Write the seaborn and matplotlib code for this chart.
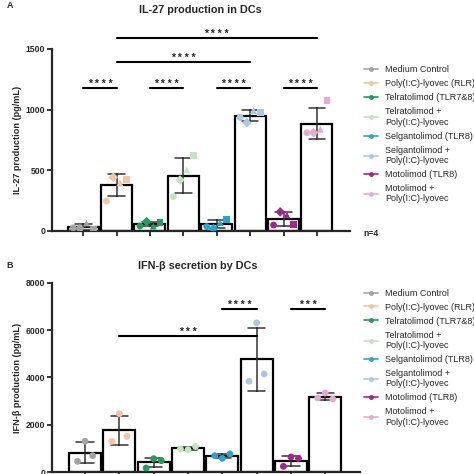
import pandas as pd
import matplotlib.pyplot as plt
import seaborn as sns
from matplotlib.lines import Line2D

sns.set_style("ticks")
plt.rcParams['font.family'] = ['Liberation Sans', 'DejaVu Sans']

groups = ["Medium Control", "Poly(I:C)-lyovec (RLR)", "Telratolimod (TLR7&8)",
          "Telratolimod +\nPoly(I:C)-lyovec", "Selgantolimod (TLR8)",
          "Selgantolimod +\nPoly(I:C)-lyovec", "Motolimod (TLR8)",
          "Motolimod +\nPoly(I:C)-lyovec"]
colors = ["#a3a3a3", "#f2c6a0", "#1f9d5c", "#bfe6bc",
          "#2aa5cf", "#a8c8e4", "#a3248f", "#e8a8d3"]

# IL-27 (pg/mL), four donors: circle, square, triangle, diamond
il27_circle = [25, 247, 41, 283, 36, 937, 49, 810]
il27_square = [15, 426, 69, 621, 96, 978, 55, 1074]
il27_triangle = [65, 398, 40, 503, 69, 992, 132, 838]
il27_diamond = [20, 442, 77, 420, 20, 893, 157, 810]

# IFN-beta (pg/mL), three donors
ifnb_d1 = [1298, 2469, 564, 945, 578, 6307, 635, 3344]
ifnb_d2 = [691, 1510, 480, 1086, 762, 4148, 578, 3090]
ifnb_d3 = [451, 1298, 169, 973, 691, 3838, 240, 3132]

sig_a = [(0, 1, 1180, "* * * *"), (2, 3, 1180, "* * * *"), (4, 5, 1180, "* * * *"),
         (6, 7, 1180, "* * * *"), (1, 5, 1390, "* * * *"), (1, 7, 1588, "* * * *")]
sig_b = [(1, 5, 5743, "* * *"), (4, 5, 6900, "* * * *"), (6, 7, 6900, "* * *")]


def long_table(donors, offsets):
    rows = []
    for name, vals in donors.items():
        for i, v in enumerate(vals):
            rows.append({"group": groups[i], "pos": i, "donor": name,
                         "xj": i + offsets[name], "value": v})
    return pd.DataFrame(rows)


df_a = long_table({"o": il27_circle, "s": il27_square, "^": il27_triangle, "D": il27_diamond},
                  {"o": -0.3, "s": 0.3, "^": 0.1, "D": -0.1})
df_b = long_table({"d1": ifnb_d1, "d2": ifnb_d2, "d3": ifnb_d3},
                  {"d1": 0.0, "d2": 0.22, "d3": -0.22})

palette = dict(zip(groups, colors))

fig = plt.figure(figsize=(4.74, 4.74), dpi=100)
axA = fig.add_axes([0.110, 0.5127, 0.629, 0.384])
axB = fig.add_axes([0.110, 0.0042, 0.650, 0.399])


def draw_panel(ax, df, markers, ylim, yticks, ylabel, sigs, star_off, xlim):
    sns.barplot(data=df, x="pos", y="value", native_scale=True, errorbar="sd",
                capsize=0.5, width=0.93, color="white", edgecolor="black",
                linewidth=1.6, err_kws={"color": "#333333", "linewidth": 1.1}, ax=ax)
    sns.scatterplot(data=df, x="xj", y="value", hue="group", palette=palette,
                    style="donor", markers=markers, s=24, linewidth=0,
                    legend=False, ax=ax, zorder=4)
    ax.set_xlim(*xlim)
    ax.set_ylim(*ylim)
    ax.set_yticks(yticks)
    ax.set_yticklabels([str(t) for t in yticks], fontsize=6.2, fontweight="bold")
    ax.set_xticks(range(len(groups)))
    ax.set_xticklabels([])
    ax.set_xlabel("")
    ax.set_ylabel(ylabel, fontsize=6.6, fontweight="bold", labelpad=3)
    ax.tick_params(width=1.3, length=3.5, pad=1.5)
    for s in ["left", "bottom"]:
        ax.spines[s].set_linewidth(1.6)
    sns.despine(ax=ax)
    for i, j, y, txt in sigs:
        ax.plot([i, j], [y, y], color="black", lw=1.5, clip_on=False)
        ax.text((i + j) / 2, y + star_off, txt, ha="center", va="baseline",
                fontsize=7.5, fontweight="bold", color="#222222", clip_on=False)


draw_panel(axA, df_a, {"o": "o", "s": "s", "^": "^", "D": "D"}, (0, 1500),
           [0, 500, 1000, 1500], "IL-27 production (pg/mL)", sig_a, 10, (-0.93, 8.0))
draw_panel(axB, df_b, {"d1": "o", "d2": "o", "d3": "o"}, (0, 8000),
           [0, 2000, 4000, 6000, 8000], "IFN-β production (pg/mL)", sig_b, 45, (-0.96, 8.02))

fig.text(0.422, 0.979, "IL-27 production in DCs", ha="center", va="center",
         fontsize=7.8, fontweight="bold")
fig.text(0.418, 0.439, "IFN-β secretion by DCs", ha="center", va="center",
         fontsize=7.8, fontweight="bold")

handles = [Line2D([0], [0], color=c, marker="o", markersize=2.5, lw=1.2) for c in colors]
for ax, anchor in [(axA, (0.768, 0.862)), (axB, (0.768, 0.391))]:
    ax.legend(handles, groups, loc="upper left", bbox_to_anchor=anchor,
              bbox_transform=fig.transFigure, frameon=False, fontsize=6.5,
              handlelength=1.6, handletextpad=0.7, labelspacing=0.55,
              borderaxespad=0, borderpad=0)

fig.text(0.766, 0.508, "n=4", fontsize=6.2, fontweight="bold", va="center")
fig.text(0.014, 0.998, "A", fontsize=6.5, fontweight="bold", va="top")
fig.text(0.014, 0.45, "B", fontsize=6.5, fontweight="bold", va="top")

fig.savefig("out.png", dpi=100)
